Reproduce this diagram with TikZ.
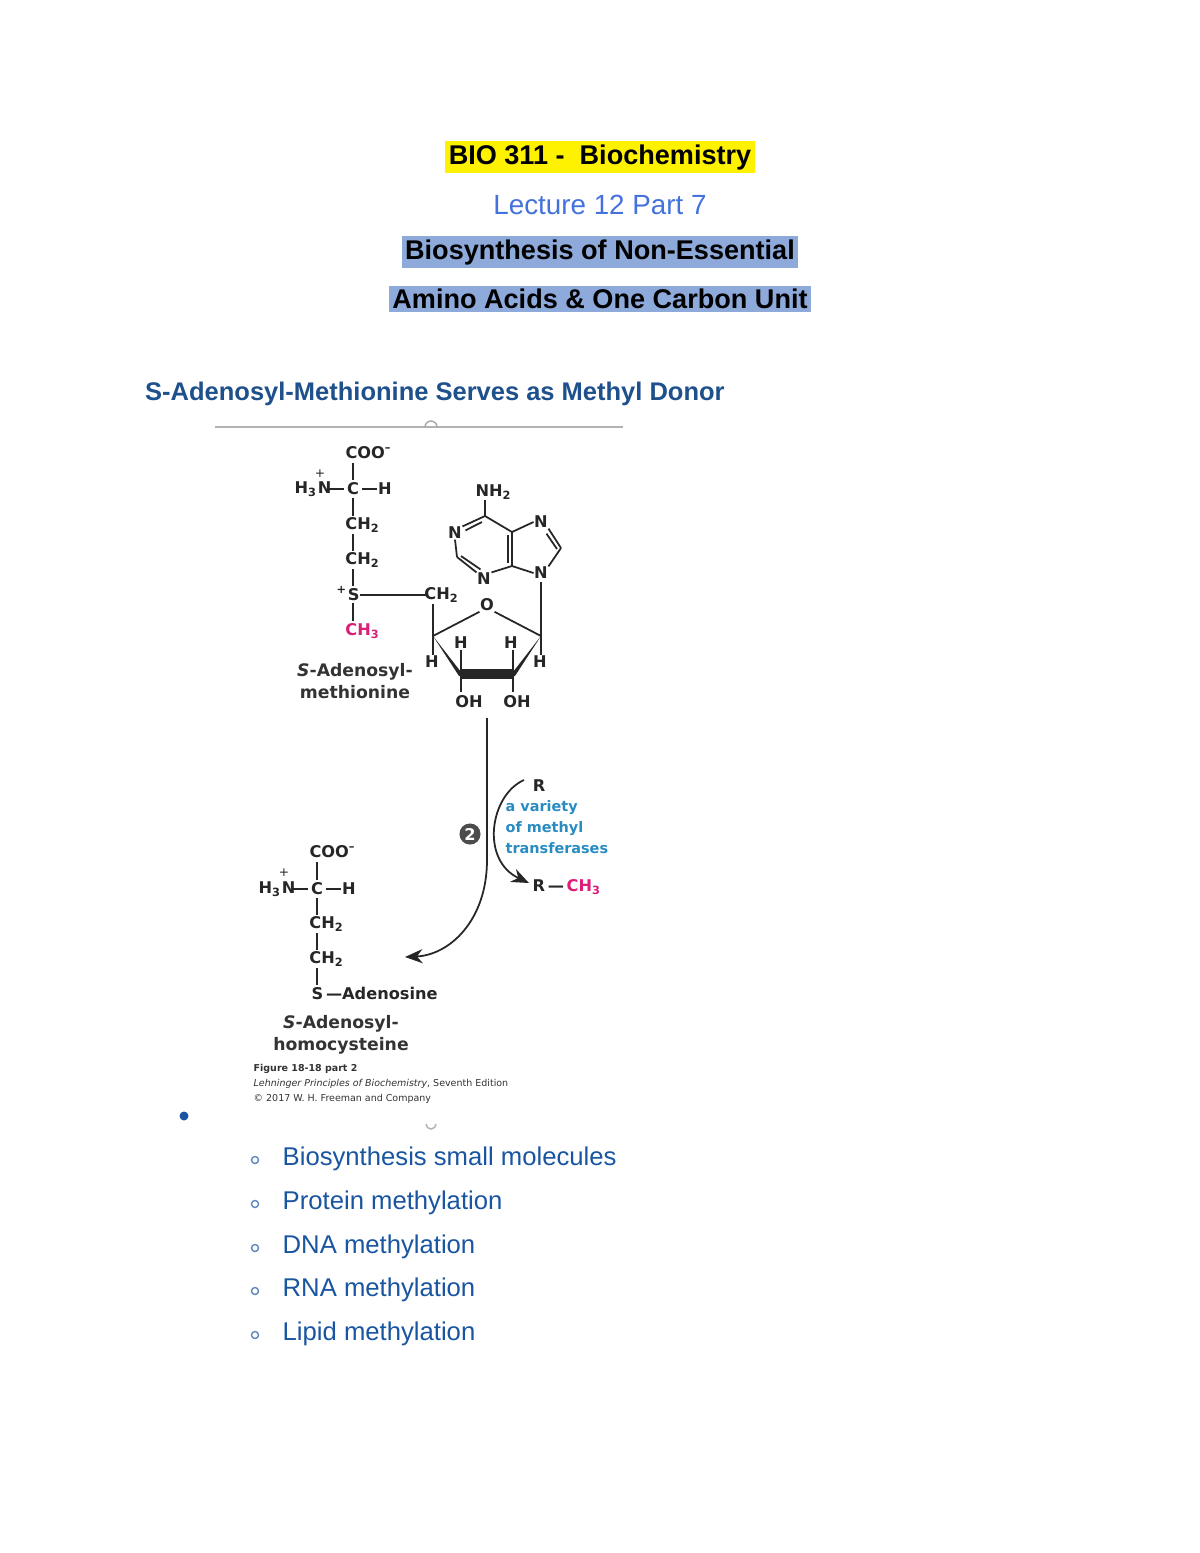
\documentclass[tikz,border=0pt]{standalone}
\usepackage{fontspec}
\setmainfont{Liberation Sans}
\newfontfamily\chem{DejaVu Sans}
\usetikzlibrary{arrows.meta,calc}
\definecolor{hlblue}{RGB}{142,170,219}
\definecolor{lecblue}{RGB}{68,114,220}
\definecolor{headblue}{RGB}{30,80,140}
\definecolor{bulblue}{RGB}{25,85,160}
\definecolor{chempink}{RGB}{220,30,120}
\definecolor{chemblue}{RGB}{40,140,195}
\newcommand{\sbs}[1]{\textsubscript{#1}}
\newcommand{\sps}[1]{\textsuperscript{#1}}
\tikzset{
 ttl/.style={font=\fontsize{7.7pt}{9pt}\selectfont\bfseries, inner sep=1pt},
 ch/.style={font=\chem\fontsize{4.6pt}{5pt}\selectfont\bfseries, inner sep=0pt, text=black!85},
 chl/.style={font=\chem\fontsize{4.9pt}{6.3pt}\selectfont\bfseries, inner sep=0pt, text=black!80, align=center},
 bd/.style={line width=0.5pt, black!85},
 bul/.style={font=\fontsize{7.3pt}{8pt}\selectfont, text=bulblue, anchor=west, inner sep=0pt},
}
\begin{document}
\begin{tikzpicture}[x=0.01cm,y=-0.01cm]
\useasboundingbox (0,0) rectangle (1200,1553);
\fill[white] (0,0) rectangle (1200,1553);
% titles
\node[ttl, fill=yellow] (t1) at (600,157) {BIO 311 -\ \ Biochemistry};
\node[ttl, text=lecblue, font=\fontsize{7.9pt}{9pt}\selectfont] (t2) at (600,205) {Lecture 12 Part 7};
\node[ttl, fill=hlblue] (t3) at (600,252) {Biosynthesis of Non-Essential};
\node[ttl, fill=hlblue] (t4) at (600,299) {Amino Acids \& One Carbon Unit};
\node[ttl, text=headblue, anchor=west, font=\fontsize{7.25pt}{8pt}\selectfont\bfseries] (h) at (141,394) {S-Adenosyl-Methionine Serves as Methyl Donor};
\draw[gray!60, line width=0.4pt] (215,427) -- (623,427);
\draw[gray!70, line width=0.4pt] (425,427) arc (180:360:6);
% SAM
\node[ch] (coo) at (369,453) {COO\sps{–}};
\node[ch] (h3n) at (313,489) {H\sbs{3}N};
\node[ch, font=\chem\fontsize{3.5pt}{4pt}\selectfont] (plus1) at (320,474) {+};
\node[ch] (c1) at (353,489) {C};
\node[ch] (hh) at (385,489) {H};
\node[ch] (ch2a) at (363,525) {CH\sbs{2}};
\node[ch] (ch2b) at (363,560) {CH\sbs{2}};
\node[ch] (s1) at (348,594) {\sps{+}S};
\node[ch] (ch2c) at (442,595) {CH\sbs{2}};
\node[ch, text=chempink] (ch3) at (363,631) {CH\sbs{3}};
\draw[bd] (353,463) -- (353,480);
\draw[bd] (327,489) -- (344,489);
\draw[bd] (362,489) -- (377,489);
\draw[bd] (353,498) -- (353,516);
\draw[bd] (353,534) -- (353,551);
\draw[bd] (353,569) -- (353,586);
\draw[bd] (360,595) -- (426,595);
\draw[bd] (353,603) -- (353,621);
\node[chl] (saml) at (355,681) {\textit{S}-Adenosyl-\\methionine};
% ribose
\coordinate (c4) at (433,636);
\coordinate (c1p) at (541,636);
\coordinate (c2) at (513,672);
\coordinate (c3) at (461,672);
\node[ch] (o) at (487,605) {O};
\draw[bd] (433,604) -- (c4);
\draw[bd] (c4) -- (o.south west) ;
\draw[bd] (o.south east) -- (c1p);
\draw[bd] (541,582) -- (c1p);
\fill[black!85] (c4) -- (c3) -- (461,676) -- (459,676) -- cycle;
\fill[black!85] (c1p) -- (c2) -- (513,676) -- (515,676) -- cycle;
\draw[black!85, line width=2.8pt] (460,674) -- (514,674);
\draw[bd] (433,636) -- (433,655);
\draw[bd] (541,636) -- (541,655);
\draw[bd] (461,650) -- (461,672);
\draw[bd] (513,650) -- (513,672);
\draw[bd] (461,676) -- (461,692);
\draw[bd] (513,676) -- (513,692);
\node[ch] (h1) at (432,662) {H};
\node[ch] (h2) at (461,643) {H};
\node[ch] (h3) at (511,643) {H};
\node[ch] (h4) at (540,662) {H};
\node[ch] (oh1) at (469,702) {OH};
\node[ch] (oh2) at (517,702) {OH};
% adenine
\node[ch] (nh2) at (494,492) {NH\sbs{2}};
\node[ch] (n1) at (455,533) {N};
\node[ch] (n3) at (484,579) {N};
\node[ch] (n7) at (541,522) {N};
\node[ch] (n9) at (541,573) {N};
\coordinate (a6) at (485,516);
\coordinate (a2) at (457,557);
\coordinate (a4) at (512,566);
\coordinate (a5) at (512,532);
\coordinate (a8) at (561,548);
\draw[bd] (485,500) -- (a6);
\draw[bd] (a6) -- (n1.north east);
\draw[bd] ($(a6)+(-3,6)$) -- ($(n1.north east)+(3,4)$);
\draw[bd] (n1.south) -- (a2);
\draw[bd] (a2) -- (n3.north west);
\draw[bd] ($(a2)+(4,-1)$) -- ($(n3.north west)+(4,-3)$);
\draw[bd] (n3.north east) -- (a4);
\draw[bd] (a4) -- (a5);
\draw[bd] ($(a4)+(-4,-3)$) -- ($(a5)+(-4,3)$);
\draw[bd] (a5) -- (a6);
\draw[bd] (a5) -- (n7.west);
\draw[bd] (n7.south east) -- (a8);
\draw[bd] ($(n7.south east)+(-2,5)$) -- ($(a8)+(-4,1)$);
\draw[bd] (a8) -- (n9.north east);
\draw[bd] (n9.west) -- (a4);
% reaction arrows
\coordinate (top) at (487,718);
\coordinate (arrend) at (405,957);
\draw[bd, -{Stealth[length=5pt,width=4pt]}] (top) -- (487,860) .. controls (487,920) and (450,955) .. (arrend);
\coordinate (rs) at (524,780);
\coordinate (re) at (529,883);
\draw[bd, -{Stealth[length=5pt,width=4pt]}] (rs) .. controls (490,795) and (480,860) .. (re);
\node[ch] (r1) at (539,786) {R};
\node[chl, text=chemblue, anchor=north west, align=left, font=\chem\fontsize{4.1pt}{5.9pt}\selectfont\bfseries] (enz) at (505,800) {a variety\\of methyl\\transferases};
\node[ch, anchor=west] (rch3) at (532,887) {R\,—\,\textcolor{chempink}{CH\sbs{3}}};
\node[circle, fill=black!70, inner sep=0pt, minimum size=6pt, text=white, font=\chem\fontsize{4.6pt}{5pt}\selectfont\bfseries] (two) at (470,834) {2};
% SAH
\node[ch] (coo2) at (333,852) {COO\sps{–}};
\node[ch] (h3n2) at (277,889) {H\sbs{3}N};
\node[ch, font=\chem\fontsize{3.5pt}{4pt}\selectfont] (plus2) at (284,873) {+};
\node[ch] (c2b) at (317,889) {C};
\node[ch] (hh2) at (349,889) {H};
\node[ch] (ch2d) at (327,924) {CH\sbs{2}};
\node[ch] (ch2e) at (327,959) {CH\sbs{2}};
\node[ch, anchor=west] (sad) at (311,993) {S\,—Adenosine};
\draw[bd] (317,862) -- (317,880);
\draw[bd] (291,889) -- (308,889);
\draw[bd] (326,889) -- (341,889);
\draw[bd] (317,898) -- (317,915);
\draw[bd] (317,933) -- (317,950);
\draw[bd] (317,968) -- (317,985);
\node[chl] (sahl) at (341,1035) {\textit{S}-Adenosyl-\\homocysteine};
\node[anchor=west, inner sep=0pt, font=\chem\fontsize{2.7pt}{4.3pt}\selectfont, align=left, text=black!80] (fig) at (253,1084) {\textbf{Figure 18-18 part 2}\\\textit{Lehninger Principles of Biochemistry}, Seventh Edition\\© 2017 W. H. Freeman and Company};
\draw[gray!60, line width=0.4pt] (426,1124) arc (180:0:5);
% bullets
\fill[bulblue] (184,1116) circle (4.5);
\node[bul] (b1) at (282,1159) {Biosynthesis small molecules};
\node[bul] (b2) at (282,1203) {Protein methylation};
\node[bul] (b3) at (282,1247) {DNA methylation};
\node[bul] (b4) at (282,1290) {RNA methylation};
\node[bul] (b5) at (282,1334) {Lipid methylation};
\foreach \y in {1160,1204,1248,1291,1335} \draw[bulblue!70, line width=0.4pt] (255,\y) circle (3.5);
\end{tikzpicture}
\end{document}
